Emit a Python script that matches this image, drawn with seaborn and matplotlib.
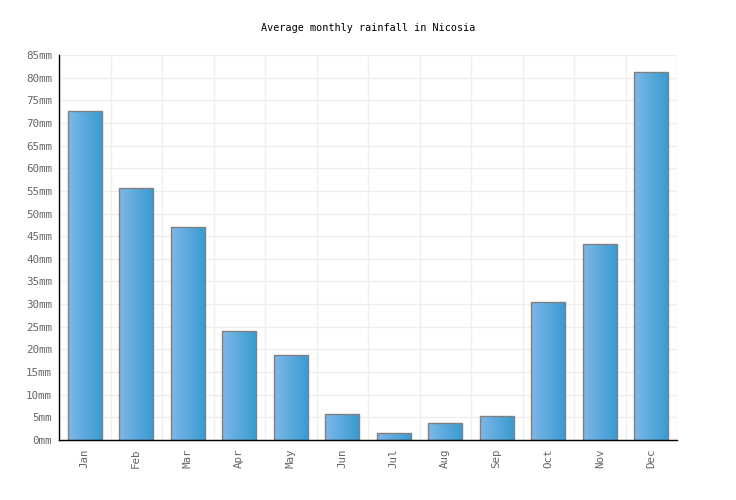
import numpy as np
import pandas as pd
import matplotlib
matplotlib.use("Agg")
import matplotlib.pyplot as plt
import seaborn as sns
from matplotlib.colors import LinearSegmentedColormap

months = ["Jan", "Feb", "Mar", "Apr", "May", "Jun", "Jul", "Aug", "Sep", "Oct", "Nov", "Dec"]
rainfall = [72.6, 55.6, 47.0, 24.1, 18.8, 5.7, 1.5, 3.8, 5.3, 30.5, 43.3, 81.2]
y_ticks = list(range(0, 90, 5))
y_labels = [f"{v}mm" for v in y_ticks]
title = "Average monthly rainfall in Nicosia"

sns.set_theme(style="white")
plt.rcParams["font.family"] = ["DejaVu Sans Mono", "DejaVu Sans"]

df = pd.DataFrame({"month": months, "rain": rainfall})

fig = plt.figure(figsize=(7.36, 5.0), dpi=100)
ax = fig.add_axes([59 / 736, 60 / 500, 618 / 736, 385 / 500])

sns.barplot(data=df, x="month", y="rain", ax=ax, color="#5aa8de",
            width=0.66, edgecolor="#808080", linewidth=1.0, saturation=1)

cmap = LinearSegmentedColormap.from_list("g", ["#7db8ea", "#3a9bd0"])
grad = np.linspace(0, 1, 256).reshape(1, -1)
for p in ax.patches:
    x0, y0 = p.get_x(), p.get_y()
    w, h = p.get_width(), p.get_height()
    im = ax.imshow(grad, cmap=cmap, aspect="auto",
                   extent=[x0, x0 + w, y0, y0 + h], zorder=p.get_zorder() + 0.1)
    im.set_clip_path(p)
    p.set_facecolor("none")
    p.set_zorder(p.get_zorder() + 0.2)

ax.set_xlim(-0.5, len(months) - 0.5)
ax.set_ylim(0, 85)
ax.set_yticks(y_ticks)
ax.set_yticklabels(y_labels)
ax.set_xticks(range(len(months)))
ax.set_xticklabels(months, rotation=90)
ax.set_xticks(np.arange(-0.5, len(months), 1), minor=True)

ax.grid(False)
ax.yaxis.grid(True, color="#eeeeee", linewidth=1)
ax.xaxis.grid(True, which="minor", color="#eeeeee", linewidth=1)
ax.set_axisbelow(True)

for s in ["top", "right"]:
    ax.spines[s].set_visible(False)
ax.spines["left"].set_color("black")
ax.spines["bottom"].set_color("black")
ax.spines["left"].set_linewidth(1)
ax.spines["bottom"].set_linewidth(1)

ax.tick_params(axis="y", which="both", length=0, labelsize=7.8, colors="#666666", pad=5)
ax.tick_params(axis="x", which="both", length=0, labelsize=7.8, colors="#666666", pad=6)
ax.set_xlabel("")
ax.set_ylabel("")

fig.text(368 / 736, 1 - 28 / 500, title, ha="center", va="center", fontsize=7.3, color="black")

fig.savefig("out.png", dpi=100)
